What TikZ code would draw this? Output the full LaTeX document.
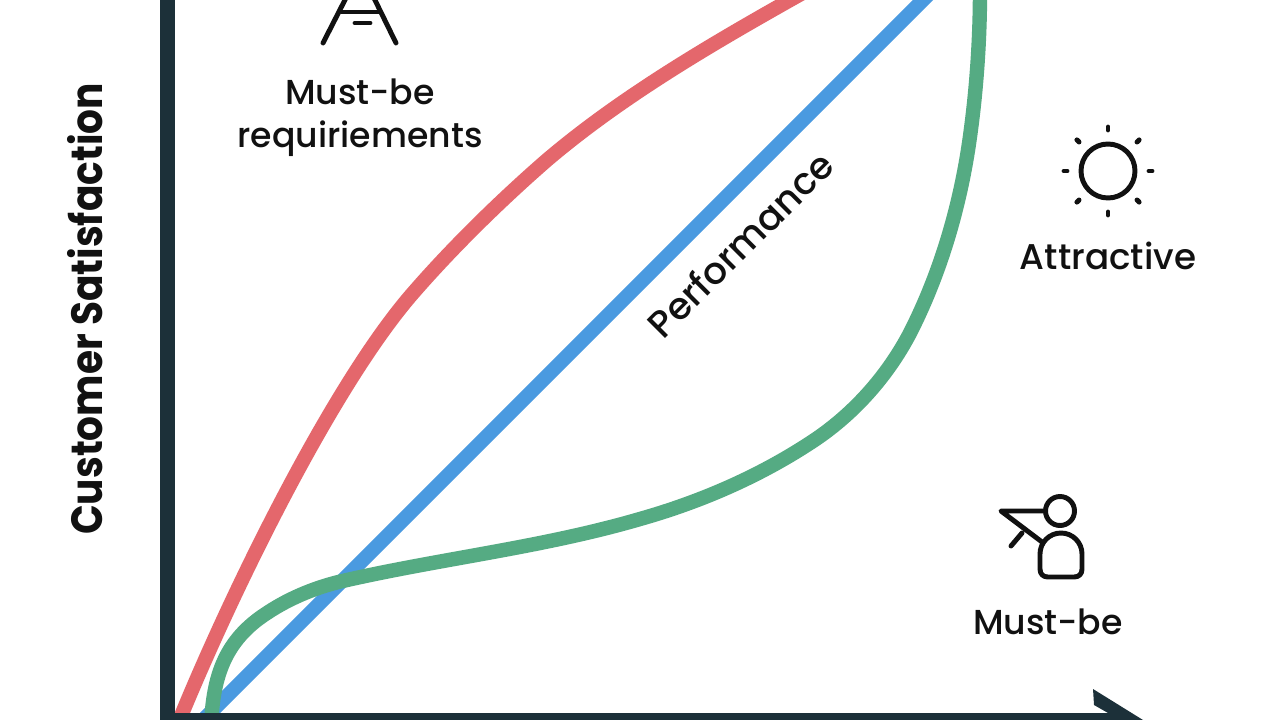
\documentclass[tikz,border=0pt]{standalone}
\usetikzlibrary{calc}
\usepackage{graphicx}
\usepackage{fontspec}
\setmainfont{Poppins Medium}
\newfontfamily\heavyface{Poppins}[UprightFont=* Bold]
\definecolor{axiscol}{HTML}{1C3039}
\definecolor{redcol}{HTML}{E4676C}
\definecolor{bluecol}{HTML}{4A9AE0}
\definecolor{greencol}{HTML}{55AB83}
\definecolor{inkcol}{HTML}{111111}
\tikzset{
 curve/.style={line width=10.8pt,line cap=butt,line join=round},
 icon/.style={draw=inkcol,line width=3.7pt,line cap=round,line join=round},
 lab/.style={text=inkcol,font=\fontsize{26}{32.3}\selectfont,align=center,inner sep=0pt},
}
\begin{document}
\begin{tikzpicture}[x=0.75pt,y=-0.75pt]
\useasboundingbox (0,0) rectangle (1280,720);
\fill[white] (0,0) rectangle (1280,720);
\begin{scope}
\clip (0,0) rectangle (1280,720);
\draw[curve,draw=redcol] (177,726) .. controls (228,600) and (331,387) .. (413,293) .. controls (453,247) and (501,200) .. (547,160) .. controls (627,92) and (724,37) .. (815,-14);
\draw[curve,draw=bluecol] (201,722) -- (931,-8);
\draw[curve,draw=greencol] (211,726) .. controls (213,676) and (225,640) .. (267,613) .. controls (291,597) and (319,586) .. (347,580) .. controls (445,558) and (544,547) .. (640,519) .. controls (700,502) and (758,477) .. (810,443) .. controls (852,416) and (887,377) .. (910,333) .. controls (939,276) and (958,213) .. (968,150) .. controls (976,98) and (980,43) .. (980,-10);
\fill[axiscol] (160,0) rectangle (175,720);
\fill[axiscol] (160,713) rectangle (1125,720);
\fill[axiscol] (1093,689) -- (1143,720) -- (1108,720) -- (1108,713) -- (1094,705) -- cycle;
\draw[icon] (348,-6) -- (323,43);
\draw[icon] (372,-6) -- (396,43);
\draw[icon] (342,12) -- (378,12);
\draw[icon] (355,23) -- (370,23);
\end{scope}
\node[lab] (mustreq) at (360,117.5) {Must-be\\requiriements};
\node[lab,rotate=90,anchor=base] (ysat) at (102,309) {\scalebox{1}[1.12]{\fontsize{29.3}{33}\selectfont\heavyface Customer Satisfaction}};
\node[lab,rotate=45,font=\fontsize{28}{33}\selectfont] (perf) at (740,244) {Performance};
\node[lab,font=\fontsize{26.8}{33}\selectfont] (attr) at (1108,256) {Attractive};
\node[lab] (must) at (1048,622) {Must-be};
\draw[icon] (1108,171) circle (27);
\foreach \a in {0,45,...,315}{
 \draw[icon] ($(1108,171)+(\a:41)$) -- ($(1108,171)+(\a:44)$);
}
\draw[icon] (1060,511) circle (14.5);
\draw[icon] (1045,511) -- (1001,511) -- (1042,542);
\draw[icon] (1022,533) -- (1011,546);
\draw[icon] (1040,554) .. controls (1040,542.4) and (1049.4,533) .. (1061,533) .. controls (1072.6,533) and (1082,542.4) .. (1082,554) -- (1082,569) .. controls (1082,574) and (1079,577) .. (1074,577) -- (1048,577) .. controls (1043,577) and (1040,574) .. (1040,569) -- cycle;
\end{tikzpicture}
\end{document}
